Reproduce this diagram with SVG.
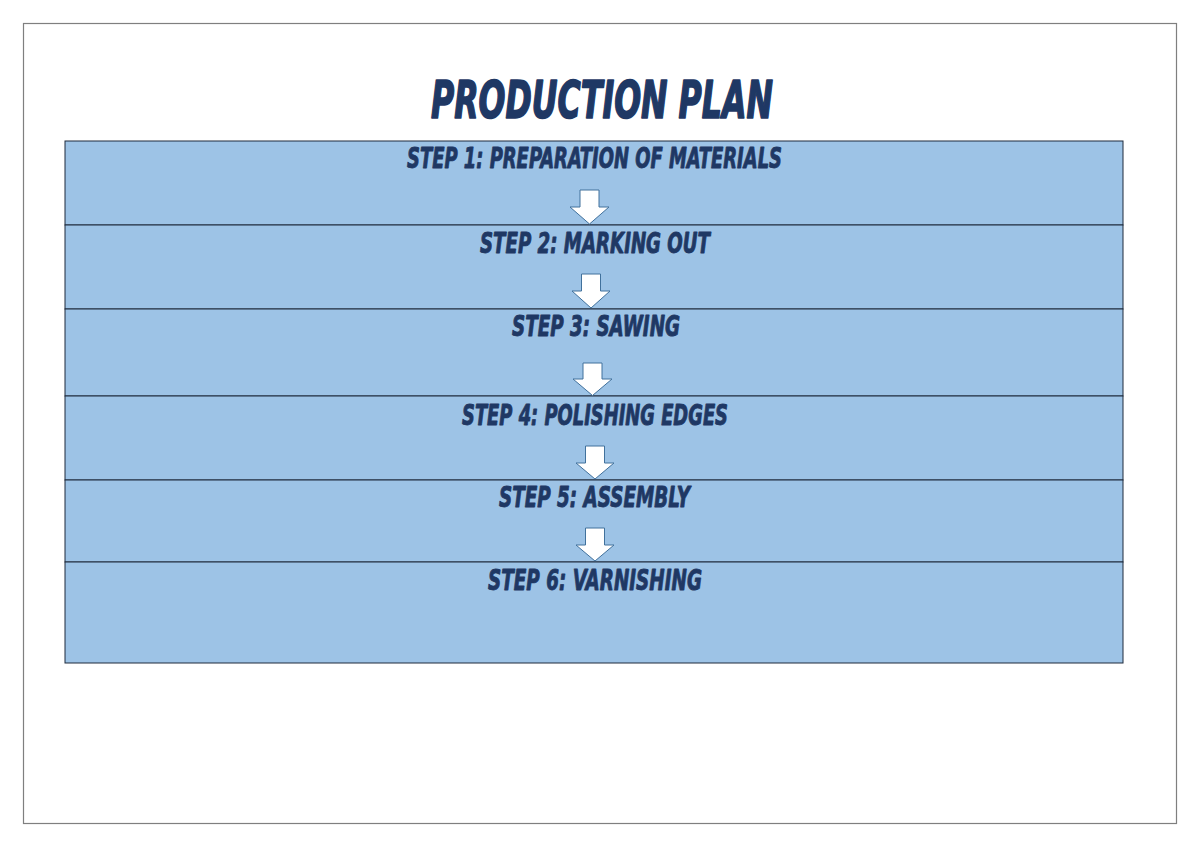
<svg xmlns="http://www.w3.org/2000/svg" width="1200" height="848" viewBox="0 0 1200 848">
<style>
.page{fill:#ffffff;stroke:#7f7f7f;stroke-width:1.2}
.box{fill:#9dc3e6;stroke:#1e2b3c;stroke-width:1}
.lbl{font-family:"Liberation Sans Narrow","DejaVu Sans Condensed","Liberation Sans",sans-serif;font-weight:bold;font-style:italic;fill:#1f3864;stroke:#1f3864;stroke-linejoin:round}
.step{font-size:29px;stroke-width:0.9}
.title{font-size:52px;stroke-width:1.6}
.arr{fill:#ffffff;stroke:#41719c;stroke-width:1;stroke-linejoin:miter}
</style>
<rect x="0" y="0" width="1200" height="848" fill="#ffffff"/>
<rect class="page" x="23.5" y="23.5" width="1153" height="800"/>
<g id="title">
<text class="lbl title" x="431" y="118" textLength="342" lengthAdjust="spacingAndGlyphs">PRODUCTION PLAN</text>
</g>
<g id="step1">
<rect class="box" x="65" y="141" width="1058" height="84"/>
<text class="lbl step" x="407" y="168" textLength="375" lengthAdjust="spacingAndGlyphs">STEP 1: PREPARATION OF MATERIALS</text>
</g>
<g id="step2">
<rect class="box" x="65" y="225" width="1058" height="84"/>
<text class="lbl step" x="480" y="253" textLength="230" lengthAdjust="spacingAndGlyphs">STEP 2: MARKING OUT</text>
</g>
<g id="step3">
<rect class="box" x="65" y="309" width="1058" height="87"/>
<text class="lbl step" x="512" y="336" textLength="168" lengthAdjust="spacingAndGlyphs">STEP 3: SAWING</text>
</g>
<g id="step4">
<rect class="box" x="65" y="396" width="1058" height="84"/>
<text class="lbl step" x="462" y="425" textLength="266" lengthAdjust="spacingAndGlyphs">STEP 4: POLISHING EDGES</text>
</g>
<g id="step5">
<rect class="box" x="65" y="480" width="1058" height="82"/>
<text class="lbl step" x="499" y="507" textLength="191" lengthAdjust="spacingAndGlyphs">STEP 5: ASSEMBLY</text>
</g>
<g id="step6">
<rect class="box" x="65" y="562" width="1058" height="101"/>
<text class="lbl step" x="488" y="590" textLength="214" lengthAdjust="spacingAndGlyphs">STEP 6: VARNISHING</text>
</g>
<g id="connectors">
<path class="arr" d="M580,190 H599 V207 H609 L589.5,224 L570,207 H580 Z"/>
<path class="arr" d="M581.5,274 H600.5 V291 H610 L591,308 L572,291 H581.5 Z"/>
<path class="arr" d="M583,363 H602 V379 H612 L592.5,395.5 L573,379 H583 Z"/>
<path class="arr" d="M585.5,446 H604.5 V463 H614 L595,479 L576,463 H585.5 Z"/>
<path class="arr" d="M585.5,528 H604.5 V545 H614 L595,561 L576,545 H585.5 Z"/>
</g>
</svg>
